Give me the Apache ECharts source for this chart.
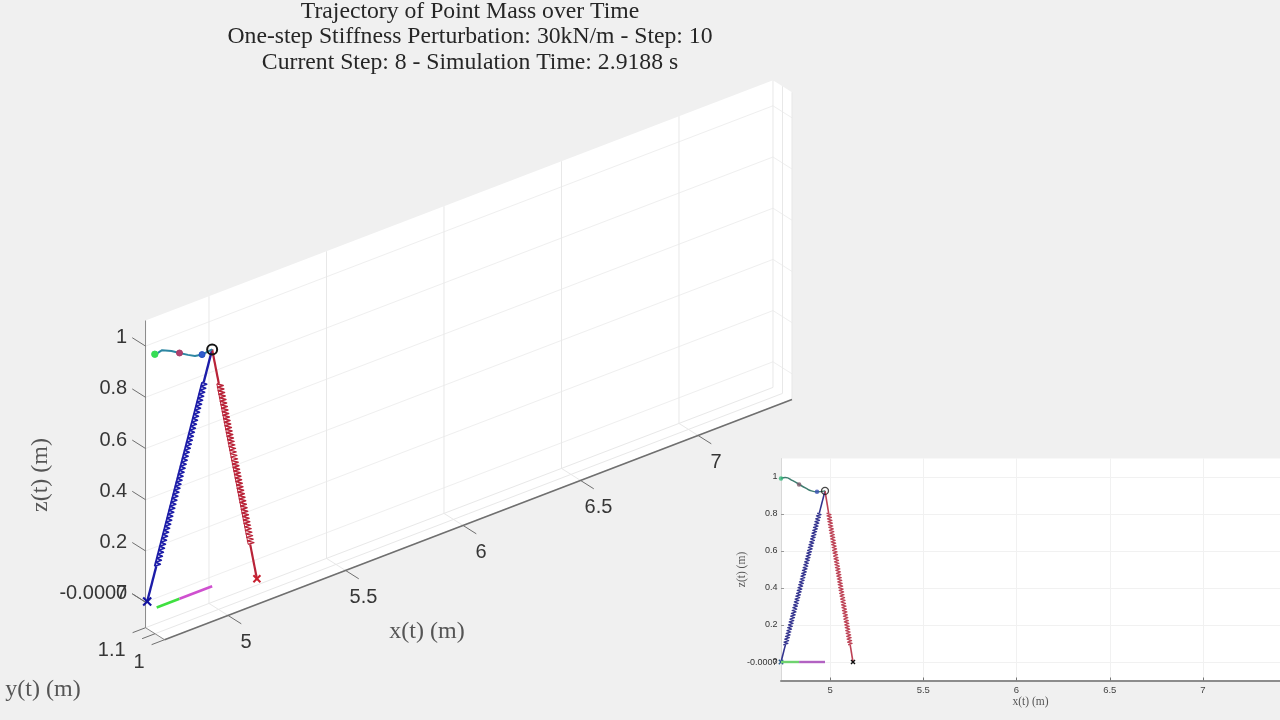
<!DOCTYPE html>
<html><head><meta charset="utf-8">
<style>html,body{margin:0;padding:0;background:#f0f0f0}#c{width:1280px;height:720px;filter:blur(0.4px)}</style>
<script src="https://cdn.jsdelivr.net/npm/echarts@6/dist/echarts.min.js"></script>
</head><body><div id="c"></div>
<script>
// ---- data (metres) ----
const titleLines = ['Trajectory of Point Mass over Time','One-step Stiffness Perturbation: 30kN/m - Step: 10','Current Step: 8 - Simulation Time: 2.9188 s'];
const xTicks = [5, 5.5, 6, 6.5, 7];
const xTickLabels = ['5', '5.5', '6', '6.5', '7'];
const yTicks = [1, 1.05, 1.1];
const yTickLabels = ['1', '', '1.1'];
const zTicks = [-0.0007, 0, 0.2, 0.4, 0.6, 0.8, 1];
const zTickLabels = ['-0.0007', '0', '0.2', '0.4', '0.6', '0.8', '1'];
const xRange = [4.73, 7.4], yRange = [1, 1.1], zRange = [-0.1, 1.1];
const insetXRange = [4.737, 7.413];
// point-mass path
const pathX = [4.737, 4.76, 4.80, 4.834, 4.87, 4.90, 4.93, 4.973];
const pathZ = [0.992, 0.997, 0.98, 0.96, 0.94, 0.925, 0.92, 0.925];
const pathY = 1.05;
// phase markers on path: x, z
const markGreen = [4.737, 0.992], markMauve = [4.834, 0.96], markBlue = [4.93, 0.92], massPoint = [4.973, 0.925];
// ground track
const groundGreenX = [4.737, 4.834], groundMagentaX = [4.834, 4.973];
// feet: x, y, z
const footBlue = [4.737, 1.1, 0], footRed = [5.123, 1.0, 0];
const coilCount = 46;

// ---- oblique projection of the 3-D axes onto a hidden cartesian grid ----
const kY = 190 / 235, aX = 90 / 256, bY = 120 / 256;
const hMin = 3.2213, hMax = hMin + 1280 / 235, vMax = 4.5305, vMin = vMax - 720 / 256;

const GRIDC = '#efefef', GRIDV = '#e8e8e8', AXC = '#6f6f6f', TXT = '#363636', LAB = '#555555';
const SANS = '"Liberation Sans", Arial, sans-serif', SERIF = '"Liberation Serif", serif';

function P(api, x, y, z) { return api.coord([x - kY * y, z + aX * x + bY * y]); }
function ln(a, b, stroke, w, z2) { return { type: 'line', z2: z2 || 1, shape: { x1: a[0], y1: a[1], x2: b[0], y2: b[1] }, style: { stroke, lineWidth: w, fill: null } }; }
function poly(pts, stroke, w, z2) { return { type: 'polyline', z2: z2 || 1, shape: { points: pts }, style: { stroke, lineWidth: w, fill: null, lineJoin: 'round' } }; }
function dot(p, r, fill, stroke, w, z2) { return { type: 'circle', z2: z2 || 5, shape: { cx: p[0], cy: p[1], r }, style: { fill, stroke, lineWidth: w } }; }
function cross(p, r, stroke, w) { return [ln([p[0] - r, p[1] - r], [p[0] + r, p[1] + r], stroke, w, 6), ln([p[0] - r, p[1] + r], [p[0] + r, p[1] - r], stroke, w, 6)]; }
function txt(s, x, y, size, fill, family, align, rot) {
  return { type: 'text', z2: 8, x, y, rotation: rot || 0, style: { text: s, fontSize: size, fontFamily: family, fill, align: align || 'center', verticalAlign: 'middle' } };
}
// spring glyph: straight ends, horizontal coil rungs in the middle, between two projected points
function spring(a, b, color, w, endW, amp, s, e, shift, spine) {
  const dx = b[0] - a[0], dy = b[1] - a[1];
  const at = t => [a[0] + dx * t, a[1] + dy * t];
  const pts = [];
  const n = coilCount * 2;
  for (let i = 0; i <= n; i++) {
    const q = at(s + (e - s) * i / n), o = (i % 2 ? amp : -amp);
    pts.push([q[0] + o + shift, q[1]]);
  }
  const out = [poly(pts, color, w, 4), ln(a, at(s), color, endW, 4), ln(at(e), b, color, endW, 4)];
  if (spine) out.push(ln([at(s)[0] + shift - amp, at(s)[1]], [at(e)[0] + shift - amp, at(e)[1]], color, spine, 4));
  return out;
}

function render3D(params, api) {
  const ch = [];
  const [x0, x1] = xRange, [y0, y1] = yRange, [z0, z1] = zRange;
  const wall = [P(api, x0, y1, z1), P(api, x1, y1, z1), P(api, x1, y0, z1), P(api, x1, y0, z0), P(api, x0, y0, z0), P(api, x0, y1, z0)];
  ch.push({ type: 'polygon', z2: 0, shape: { points: wall }, style: { fill: '#ffffff' } });
  zTicks.slice(1).forEach(z => {
    ch.push(poly([P(api, x0, y1, z), P(api, x1, y1, z), P(api, x1, y0, z)], GRIDC, 1));
  });
  xTicks.forEach(x => {
    ch.push(poly([P(api, x, y1, z1), P(api, x, y1, z0), P(api, x, y0, z0)], GRIDV, 1));
  });
  yTicks.forEach(y => {
    ch.push(poly([P(api, x0, y, z0), P(api, x1, y, z0), P(api, x1, y, z1)], GRIDV, 1));
  });
  ch.push(ln(P(api, x0, y1, z1), P(api, x0, y1, z0), '#8a8a8a', 1, 2));
  ch.push(ln(P(api, x0, y1, z0), P(api, x0, y0, z0), '#8a8a8a', 1, 2));
  ch.push(ln(P(api, x0, y0, z0), P(api, x1, y0, z0), AXC, 1.6, 2));
  // ticks & labels
  xTicks.forEach((x, i) => {
    const a = P(api, x, y0, z0); ch.push(ln(a, P(api, x, y0 - 0.07, z0), AXC, 1, 2));
    ch.push(txt(xTickLabels[i], a[0] + 18, a[1] + 27.5, 20, TXT, SANS));
  });
  yTicks.forEach((y, i) => {
    const a = P(api, x0, y, z0); const b = P(api, x0 - 0.055, y, z0); ch.push(ln(a, b, AXC, 1, 2));
    if (yTickLabels[i]) ch.push(txt(yTickLabels[i], b[0] - 7, b[1] + 18, 20, TXT, SANS, 'right'));
  });
  zTicks.forEach((z, i) => {
    const a = P(api, x0, y1, z), b = P(api, x0, y1 + 0.07, z); ch.push(ln(a, b, AXC, 1, 2));
    ch.push(txt(zTickLabels[i], b[0] - 5, b[1], 20, TXT, SANS, 'right'));
  });
  ch.push(txt('x(t) (m)', 427, 632, 24, LAB, SERIF));
  ch.push(txt('y(t) (m)', 43, 690, 24, LAB, SERIF));
  ch.push(txt('z(t) (m)', 41, 475, 24, LAB, SERIF, 'center', Math.PI / 2));
  // marks
  const mass = P(api, massPoint[0], pathY, massPoint[1]);
  ch.push(ln(P(api, groundGreenX[0], pathY, 0), P(api, groundGreenX[1], pathY, 0), '#3fe040', 2.6, 3));
  ch.push(ln(P(api, groundMagentaX[0], pathY, 0), P(api, groundMagentaX[1], pathY, 0), '#cf50cf', 2.6, 3));
  const fb = P(api, footBlue[0], footBlue[1], footBlue[2]), fr = P(api, footRed[0], footRed[1], footRed[2]);
  ch.push(...spring(fb, mass, '#1c1ca8', 1.5, 2.4, 2.6, 0.14, 0.87, 1, 1.8));
  ch.push(...spring(fr, mass, '#b92338', 1.5, 2.2, 3, 0.15, 0.85, 1, 1));
  ch.push(...cross(fb, 4, '#12129e', 2.2), ...cross(fr, 3.5, '#c8202f', 2));
  ch.push(poly(pathX.map((x, i) => P(api, x, pathY, pathZ[i])), '#2c86a2', 2, 4));
  ch.push(dot(P(api, markGreen[0] - 0.008, pathY, markGreen[1]), 3.2, '#36dd55', '#36dd55', 1));
  ch.push(dot(P(api, markMauve[0], pathY, markMauve[1]), 3, '#b0406e', '#a83a66', 1));
  ch.push(dot(P(api, markBlue[0], pathY, markBlue[1]), 3, '#2f5ccc', '#2450c0', 1));
  ch.push(dot(mass, 5, 'rgba(0,0,0,0)', '#141414', 2, 7));
  return { type: 'group', children: ch };
}

function renderInsetSprings(params, api) {
  const mass = api.coord(massPoint);
  const fb = api.coord([footBlue[0], footBlue[2]]), fr = api.coord([footRed[0], footRed[2]]);
  const low = api.coord([insetXRange[0], zTicks[0]]);
  return { type: 'group', children: [
    ...spring(fb, mass, '#34348f', 1.3, 1.6, 2.1, 0.1, 0.87, 0),
    ...spring(fr, mass, '#bd4255', 1.3, 1.6, 2.1, 0.1, 0.87, 0),
    ...cross(fb, 2.2, '#2a5a8a', 1.4), ...cross(fr, 2, '#111111', 1.4),
    txt(zTickLabels[0], low[0] - 3.5, low[1], 9, '#333', SANS, 'right')
  ] };
}

const chart = echarts.init(document.getElementById('c'), null, { renderer: 'canvas', width: 1280, height: 720 });
chart.setOption({
  animation: false,
  backgroundColor: '#f0f0f0',
  title: { text: titleLines.join('\n'), left: 465, top: -6, textAlign: 'center',
    textStyle: { fontFamily: SERIF, fontWeight: 'normal', fontSize: 23.7, lineHeight: 25.5, color: '#262626' } },
  grid: [
    { left: 0, top: 0, width: 1280, height: 720, show: false },
    { left: 781, top: 458.5, width: 499, height: 222, show: true, backgroundColor: '#ffffff', borderWidth: 0 }
  ],
  xAxis: [
    { gridIndex: 0, type: 'value', min: hMin, max: hMax, show: false },
    { gridIndex: 1, type: 'value', min: insetXRange[0], max: insetXRange[1],
      axisLine: { show: true, onZero: false, lineStyle: { color: '#8c8c8c', width: 2 } },
      axisTick: { show: true, inside: true, length: 3, lineStyle: { color: '#777' }, customValues: xTicks },
      axisLabel: { color: '#444', fontSize: 9.5, fontFamily: SANS, margin: 5, customValues: xTicks, formatter: v => String(v), showMinLabel: true, showMaxLabel: true },
      splitLine: { show: true, lineStyle: { color: '#f1f1f1', width: 1 } },
      name: 'x(t) (m)', nameLocation: 'middle', nameGap: 15,
      nameTextStyle: { fontFamily: SERIF, fontSize: 11.5, color: '#555' } }
  ],
  yAxis: [
    { gridIndex: 0, type: 'value', min: vMin, max: vMax, show: false },
    { gridIndex: 1, type: 'value', min: zRange[0], max: zRange[1],
      axisLine: { show: true, onZero: false, lineStyle: { color: '#d8d8d8', width: 1 } },
      axisTick: { show: true, inside: true, length: 3, lineStyle: { color: '#999' }, customValues: zTicks },
      axisLabel: { color: '#333', fontSize: 9, fontFamily: SANS, margin: 3.5, customValues: zTicks.slice(1), formatter: v => String(v), hideOverlap: false },
      splitLine: { show: true, lineStyle: { color: '#f1f1f1', width: 1 } },
      name: 'z(t) (m)', nameLocation: 'middle', nameGap: 33, nameRotate: 90,
      nameTextStyle: { fontFamily: SERIF, fontSize: 11.5, color: '#555' } }
  ],
  series: [
    { type: 'custom', coordinateSystem: 'cartesian2d', xAxisIndex: 0, yAxisIndex: 0, clip: false, silent: true, data: [[0, 0]], renderItem: render3D, z: 1 },
    { type: 'custom', coordinateSystem: 'cartesian2d', xAxisIndex: 1, yAxisIndex: 1, clip: false, silent: true, data: [[0, 0]], renderItem: renderInsetSprings, z: 3 },
    { type: 'line', xAxisIndex: 1, yAxisIndex: 1, clip: false, showSymbol: false, smooth: true, z: 4, lineStyle: { color: '#3f7d70', width: 1.5 }, data: pathX.map((x, i) => [x, pathZ[i]]) },
    { type: 'line', xAxisIndex: 1, yAxisIndex: 1, clip: false, showSymbol: false, z: 4, lineStyle: { color: '#6fd36f', width: 2.4 }, data: groundGreenX.map(x => [x, 0]) },
    { type: 'line', xAxisIndex: 1, yAxisIndex: 1, clip: false, showSymbol: false, z: 4, lineStyle: { color: '#b262c2', width: 2.4 }, data: groundMagentaX.map(x => [x, 0]) },
    { type: 'scatter', xAxisIndex: 1, yAxisIndex: 1, clip: false, z: 5, symbolSize: 4.5, itemStyle: { color: '#35b87a' }, data: [markGreen] },
    { type: 'scatter', xAxisIndex: 1, yAxisIndex: 1, clip: false, z: 5, symbolSize: 4.5, itemStyle: { color: '#7c5a6c' }, data: [markMauve] },
    { type: 'scatter', xAxisIndex: 1, yAxisIndex: 1, clip: false, z: 5, symbolSize: 4.5, itemStyle: { color: '#3b52b5' }, data: [markBlue] },
    { type: 'scatter', xAxisIndex: 1, yAxisIndex: 1, clip: false, z: 6, symbolSize: 7, itemStyle: { color: 'rgba(255,255,255,0)', borderColor: '#1a1a1a', borderWidth: 1.3 }, data: [massPoint] }
  ]
});
</script></body></html>
